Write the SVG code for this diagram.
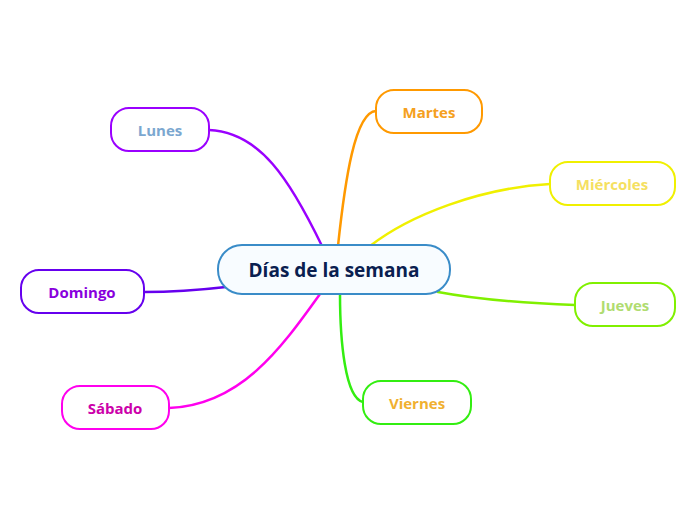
<svg xmlns="http://www.w3.org/2000/svg" width="696" height="520" viewBox="0 0 696 520">
<style>
text{font-family:"Open Sans","Noto Sans",sans-serif;font-weight:bold;text-anchor:middle;dominant-baseline:central}
.n rect{fill:#fff;stroke-width:2}
.n text{font-size:15px}
#edges path{fill:none;stroke-width:2.5;stroke-linecap:round}
</style>
<rect width="696" height="520" fill="#fff"/>
<g id="edges">
<path d="M209,130 C260,132 290,180 322,246" stroke="#9a00ff"/>
<path d="M376,111 C355,112 345,180 338,246" stroke="#ff9900"/>
<path d="M550,184 C480,188 410,215 370,246" stroke="#f0f000"/>
<path d="M575,305 C520,303 480,300 438,292" stroke="#80f000"/>
<path d="M363,402 C345,398 340,340 340,294" stroke="#33ee11"/>
<path d="M169,408 C240,405 280,350 320,294" stroke="#ff00ee"/>
<path d="M144,292 C180,292 200,290 226,287" stroke="#6600ee"/>
</g>
<g id="center"><rect x="218" y="245" width="232" height="49" rx="24" fill="#f8fcff" stroke="#3a8cc8" stroke-width="2"/><text x="334" y="270" font-size="19" fill="#0a2050">Días de la semana</text></g>
<g id="lunes" class="n"><rect x="111" y="108" width="98" height="43" rx="18" stroke="#9a00ff"/><text x="160" y="130" fill="#7ba7d0">Lunes</text></g>
<g id="martes" class="n"><rect x="376" y="90" width="106" height="43" rx="18" stroke="#ff9900"/><text x="429" y="112" fill="#f5a020">Martes</text></g>
<g id="miercoles" class="n"><rect x="550" y="162" width="125" height="43" rx="18" stroke="#f0f000"/><text x="612" y="184" fill="#f5e060">Miércoles</text></g>
<g id="jueves" class="n"><rect x="575" y="283" width="100" height="43" rx="18" stroke="#80f000"/><text x="625" y="305" fill="#b0dc70">Jueves</text></g>
<g id="viernes" class="n"><rect x="363" y="381" width="108" height="43" rx="18" stroke="#33ee11"/><text x="417" y="403" fill="#f0b030">Viernes</text></g>
<g id="sabado" class="n"><rect x="62" y="386" width="107" height="43" rx="18" stroke="#ff00ee"/><text x="115" y="408" fill="#cc00aa">Sábado</text></g>
<g id="domingo" class="n"><rect x="21" y="270" width="123" height="43" rx="18" stroke="#6600ee"/><text x="82" y="292" fill="#8800dd">Domingo</text></g>
</svg>
